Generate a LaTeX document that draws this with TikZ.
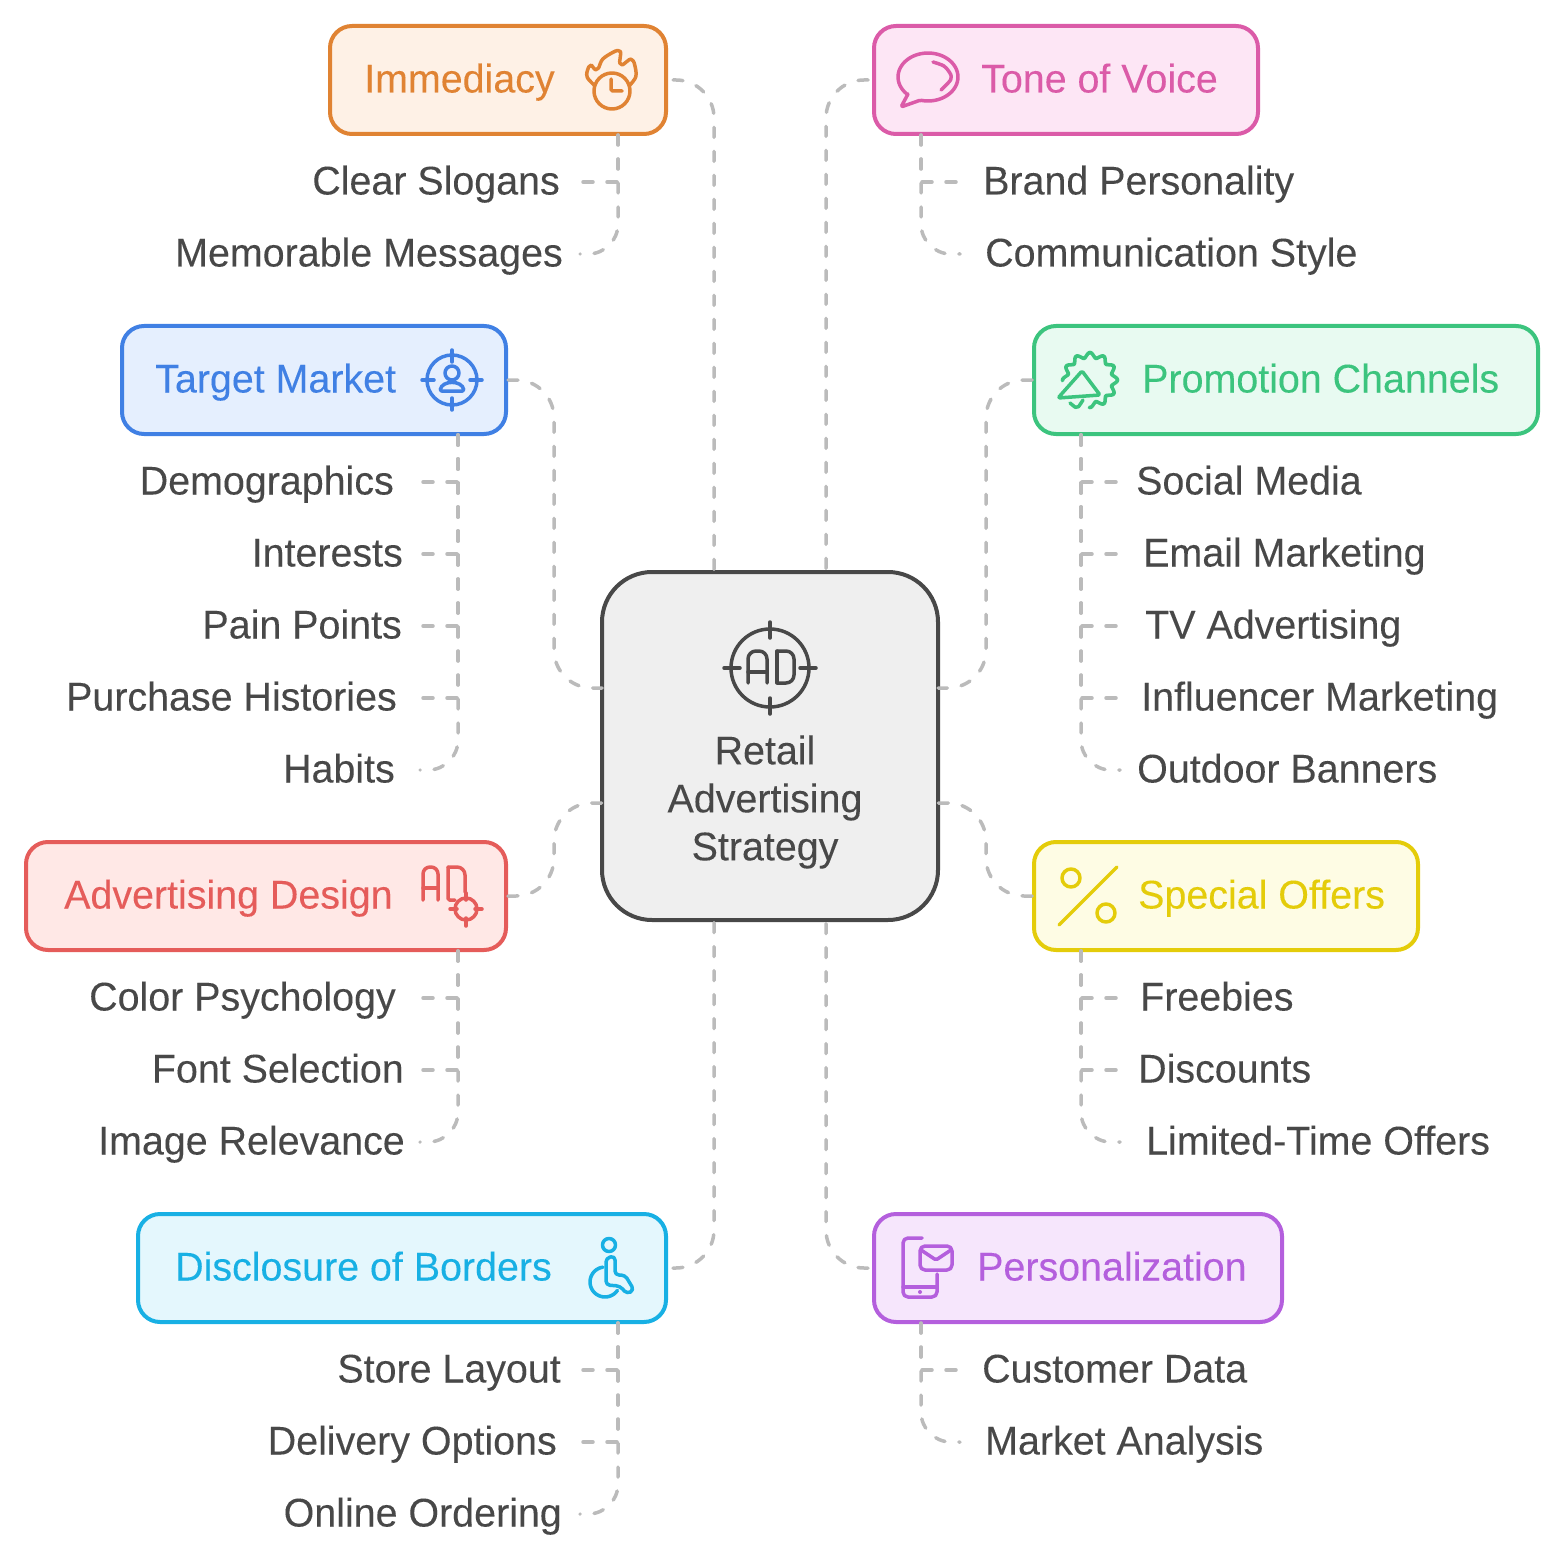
\documentclass[tikz,border=0pt]{standalone}
\usepackage{fontspec}
\setmainfont[FakeBold=0.1,FakeStretch=0.985]{Liberation Sans}
\usepackage{tikz}

\definecolor{inkgrey}{HTML}{484848}
\definecolor{dashgrey}{HTML}{BBBBBB}
\definecolor{corefill}{HTML}{EFEFEF}
\definecolor{immline}{HTML}{E08333}
\definecolor{immfill}{HTML}{FEF1E6}
\definecolor{toneline}{HTML}{DB5BA8}
\definecolor{tonefill}{HTML}{FDE6F5}
\definecolor{tgtline}{HTML}{4080E4}
\definecolor{tgtfill}{HTML}{E5EFFE}
\definecolor{proline}{HTML}{3CC47E}
\definecolor{profill}{HTML}{E8FAF1}
\definecolor{desline}{HTML}{E55C5A}
\definecolor{desfill}{HTML}{FFE8E6}
\definecolor{offline}{HTML}{E4CC0A}
\definecolor{offfill}{HTML}{FEFCE4}
\definecolor{disline}{HTML}{18B0E4}
\definecolor{disfill}{HTML}{E4F7FD}
\definecolor{perline}{HTML}{B45FDD}
\definecolor{perfill}{HTML}{F6E6FC}

\tikzset{
	box/.style={rectangle,rounded corners=22pt,line width=4pt,minimum height=108pt,inner sep=0pt},
	leaf/.style={inner sep=0pt,text height=34pt,text depth=9pt,text=inkgrey,font=\fontsize{40}{48}\selectfont},
	link/.style={draw=dashgrey,line width=3.5pt,dash pattern=on 10pt off 14pt,line cap=round},
	mainlink/.style={link,rounded corners=38pt},
	lastlink/.style={link,rounded corners=30pt},
	icon/.style={line width=3.5pt,line cap=round,line join=round,rounded corners=1.5pt}
}

\begin{document}
\begin{tikzpicture}[x=1pt,y=-1pt]
	\useasboundingbox (0,0) rectangle (1564,1562);
%	\draw[help lines,step=100] (0,0) grid (1564,1562);
	\path (714,572) coordinate (core_nl);
	\path (826,572) coordinate (core_nr);
	\path (714,920) coordinate (core_sl);
	\path (826,920) coordinate (core_sr);
	\path (602,688) coordinate (core_wu);
	\path (602,803) coordinate (core_wd);
	\path (938,688) coordinate (core_eu);
	\path (938,803) coordinate (core_ed);

	\path (554,688) coordinate (tgt_bend);
	\path (554,803) coordinate (des_bend);
	\path (986,688) coordinate (pro_bend);
	\path (986,803) coordinate (off_bend);

	\path (618,135) coordinate (imm_tap);
	\path (921,135) coordinate (tone_tap);
	\path (458,435) coordinate (tgt_tap);
	\path (1081,435) coordinate (pro_tap);
	\path (458,951) coordinate (des_tap);
	\path (1081,951) coordinate (off_tap);
	\path (618,1323) coordinate (dis_tap);
	\path (921,1323) coordinate (per_tap);

	% main boxes
	\node (core) at (770,746) [box,rounded corners=50pt,minimum width=336pt,minimum height=348pt,draw=inkgrey,fill=corefill] {};
	\node (imm_box) at (498,80) [box,minimum width=336pt,draw=immline,fill=immfill] {};
	\node (tone_box) at (1066,80) [box,minimum width=384pt,draw=toneline,fill=tonefill] {};
	\node (tgt_box) at (314,380) [box,minimum width=384pt,draw=tgtline,fill=tgtfill] {};
	\node (pro_box) at (1286,380) [box,minimum width=504pt,draw=proline,fill=profill] {};
	\node (des_box) at (266,896) [box,minimum width=480pt,draw=desline,fill=desfill] {};
	\node (off_box) at (1226,896) [box,minimum width=384pt,draw=offline,fill=offfill] {};
	\node (dis_box) at (402,1268) [box,minimum width=528pt,draw=disline,fill=disfill] {};
	\node (per_box) at (1078,1268) [box,minimum width=408pt,draw=perline,fill=perfill] {};

	\node (core_txt) at (765,802) [align=center,text=inkgrey,font=\fontsize{40}{48}\selectfont] {Retail\\Advertising\\Strategy};
	\node (imm_txt) at (364,80) [leaf,anchor=west,text=immline] {Immediacy};
	\node (tone_txt) at (981,80) [leaf,anchor=west,text=toneline] {Tone of Voice};
	\node (tgt_txt) at (155,380) [leaf,anchor=west,text=tgtline] {Target Market};
	\node (pro_txt) at (1142,380) [leaf,anchor=west,text=proline] {Promotion Channels};
	\node (des_txt) at (64,896) [leaf,anchor=west,text=desline] {Advertising Design};
	\node (off_txt) at (1138,896) [leaf,anchor=west,text=offline] {Special Offers};
	\node (dis_txt) at (175,1268) [leaf,anchor=west,text=disline] {Disclosure of Borders};
	\node (per_txt) at (977,1268) [leaf,anchor=west,text=perline] {Personalization};

	% left hand leaves
	\node (clear) at (560,182) [leaf,anchor=east] {Clear Slogans};
	\node (memo) at (563,254) [leaf,anchor=east] {Memorable Messages};
	\node (demo) at (394,482) [leaf,anchor=east] {Demographics};
	\node (inter) at (403,554) [leaf,anchor=east] {Interests};
	\node (pain) at (402,626) [leaf,anchor=east] {Pain Points};
	\node (hist) at (397,698) [leaf,anchor=east] {Purchase Histories};
	\node (habit) at (395,770) [leaf,anchor=east] {Habits};
	\node (color) at (396,998) [leaf,anchor=east] {Color Psychology};
	\node (fontsel) at (404,1070) [leaf,anchor=east] {Font Selection};
	\node (image) at (405,1142) [leaf,anchor=east] {Image Relevance};
	\node (store) at (561,1370) [leaf,anchor=east] {Store Layout};
	\node (deliv) at (557,1442) [leaf,anchor=east] {Delivery Options};
	\node (online) at (562,1514) [leaf,anchor=east] {Online Ordering};

	% right hand leaves
	\node (brand) at (983,182) [leaf,anchor=west] {Brand Personality};
	\node (comm) at (985,254) [leaf,anchor=west] {Communication Style};
	\node (social) at (1136,482) [leaf,anchor=west] {Social Media};
	\node (email) at (1143,554) [leaf,anchor=west] {Email Marketing};
	\node (tv) at (1145,626) [leaf,anchor=west] {TV Advertising};
	\node (influ) at (1141,698) [leaf,anchor=west] {Influencer Marketing};
	\node (banner) at (1137,770) [leaf,anchor=west] {Outdoor Banners};
	\node (free) at (1140,998) [leaf,anchor=west] {Freebies};
	\node (disc) at (1138,1070) [leaf,anchor=west] {Discounts};
	\node (limit) at (1146,1142) [leaf,anchor=west] {Limited-Time Offers};
	\node (cust) at (982,1370) [leaf,anchor=west] {Customer Data};
	\node (market) at (985,1442) [leaf,anchor=west] {Market Analysis};

	% box to core
	\draw[mainlink,shorten <=5pt] (imm_box.east) -| (core_nl);
	\draw[mainlink,shorten <=4pt] (tone_box.west) -| (core_nr);
	\draw[mainlink,shorten <=5pt] (dis_box.east) -| (core_sl);
	\draw[mainlink,shorten <=4pt] (per_box.west) -| (core_sr);
	\draw[mainlink] (tgt_box.east) -| (tgt_bend) -- (core_wu);
	\draw[mainlink] (des_box.east) -| (des_bend) -- (core_wd);
	\draw[mainlink] (pro_box.west) -| (pro_bend) -- (core_eu);
	\draw[mainlink] (off_box.west) -| (off_bend) -- (core_ed);

	% box to leaves
	\draw[link,shorten >=22pt] (imm_tap) |- (clear);
	\draw[lastlink,shorten >=17pt] (imm_tap) |- (memo);
	\draw[link,shorten >=25pt] (tone_tap) |- (brand);
	\draw[lastlink,shorten >=25pt] (tone_tap) |- (comm);
	\draw[link,shorten >=28pt] (tgt_tap) |- (demo);
	\draw[link,shorten >=19pt] (tgt_tap) |- (inter);
	\draw[link,shorten >=20pt] (tgt_tap) |- (pain);
	\draw[link,shorten >=25pt] (tgt_tap) |- (hist);
	\draw[lastlink,shorten >=25pt] (tgt_tap) |- (habit);
	\draw[link,shorten >=18pt] (pro_tap) |- (social);
	\draw[link,shorten >=25pt] (pro_tap) |- (email);
	\draw[link,shorten >=27pt] (pro_tap) |- (tv);
	\draw[link,shorten >=23pt] (pro_tap) |- (influ);
	\draw[lastlink,shorten >=17pt] (pro_tap) |- (banner);
	\draw[link,shorten >=26pt] (des_tap) |- (color);
	\draw[link,shorten >=18pt] (des_tap) |- (fontsel);
	\draw[lastlink,shorten >=15pt] (des_tap) |- (image);
	\draw[link,shorten >=22pt] (off_tap) |- (free);
	\draw[link,shorten >=20pt] (off_tap) |- (disc);
	\draw[lastlink,shorten >=26pt] (off_tap) |- (limit);
	\draw[link,shorten >=21pt] (dis_tap) |- (store);
	\draw[link,shorten >=25pt] (dis_tap) |- (deliv);
	\draw[lastlink,shorten >=18pt] (dis_tap) |- (online);
	\draw[link,shorten >=24pt] (per_tap) |- (cust);
	\draw[lastlink,shorten >=25pt] (per_tap) |- (market);

	% core icon
	\draw[icon,draw=inkgrey] (770,668) circle (39);
	\draw[icon,draw=inkgrey] (770,622) -- (770,638) (770,698) -- (770,714) (724,668) -- (740,668) (800,668) -- (816,668);
	\draw[icon,draw=inkgrey,rounded corners=8pt] (748,683) -- (748,651) -- (767,651) -- (767,683);
	\draw[icon,draw=inkgrey] (748,672) -- (767,672);
	\draw[icon,draw=inkgrey,rounded corners=8pt] (777,651) -- (794,651) -- (794,683) -- (777,683);
	\draw[icon,draw=inkgrey] (777,651) -- (777,683);

	% immediacy icon
	\draw[icon,draw=immline] (612,91) circle (18);
	\draw[icon,draw=immline] (611,79) -- (611,91) -- (622,91);
	\draw[icon,draw=immline] plot[smooth,tension=0.55] coordinates {(594,85) (587,76) (590,66) (597,69) (604,58) (619,51) (621,64) (632,60) (636,75) (630,85)};

	% tone icon
	\draw[icon,draw=toneline] plot[domain=135:465,samples=70] ({928+30*cos(\x)},{77+24*sin(\x)}) -- (901,107) -- (908,94);
	\draw[icon,draw=toneline] plot[smooth] coordinates {(933,62) (945,67) (951,78) (941,90)};

	% target icon
	\draw[icon,draw=tgtline] (452,380) circle (25);
	\draw[icon,draw=tgtline] (452,350) -- (452,362) (452,398) -- (452,410) (422,380) -- (434,380) (470,380) -- (482,380);
	\draw[icon,draw=tgtline] (452,373) circle (7);
	\draw[icon,draw=tgtline] (440,391) .. controls (442,380) and (462,380) .. (464,391) -- cycle;

	% promotion icon
	\draw[icon,draw=proline] plot[domain=180:450,samples=160] ({1090+(25+2.5*cos(12*\x))*cos(\x)},{380+(25+2.5*cos(12*\x))*sin(\x)});
	\draw[icon,draw=proline] (1082,371) -- (1100,395) -- (1058,398) -- cycle;
	\draw[icon,draw=proline] plot[smooth] coordinates {(1070,403) (1077,407) (1083,400)};

	% design icon
	\draw[icon,draw=desline,rounded corners=7pt] (423,900) -- (423,867) -- (438,867) -- (438,900);
	\draw[icon,draw=desline] (423,888) -- (438,888);
	\draw[icon,draw=desline,rounded corners=8pt] (448,867) -- (465,867) -- (465,892);
	\draw[icon,draw=desline] (448,867) -- (448,900) -- (455,900);
	\draw[icon,draw=desline] (466,909) circle (11);
	\draw[icon,draw=desline] (466,893) -- (466,900) (466,918) -- (466,926) (450,909) -- (457,909) (475,909) -- (482,909);

	% offers icon
	\draw[icon,draw=offline] (1059,925) -- (1117,867);
	\draw[icon,draw=offline] (1071,878) circle (9);
	\draw[icon,draw=offline] (1106,913) circle (9);

	% disclosure icon
	\draw[icon,draw=disline] (609,1245) circle (6.5);
	\draw[icon,draw=disline,rounded corners=4pt] (606,1258) -- (606,1285) -- (620,1286) -- (627,1294) -- (634,1290) -- (625,1275) -- (615,1275) -- (615,1256) -- cycle;
	\draw[icon,draw=disline] plot[domain=34:262,samples=40] ({605+15*cos(\x)},{1282+15*sin(\x)});

	% personalization icon
	\draw[icon,draw=perline,rounded corners=5pt] (922,1238) -- (903,1238) -- (903,1297) -- (937,1297) -- (937,1274);
	\draw[icon,draw=perline] (903,1287) -- (937,1287);
	\fill[perline] (920,1292) circle (2);
	\draw[icon,draw=perline,rounded corners=5pt] (920,1246) rectangle (952,1270);
	\draw[icon,draw=perline] (921,1250) -- (936,1260) -- (951,1250);
\end{tikzpicture}
\end{document}
